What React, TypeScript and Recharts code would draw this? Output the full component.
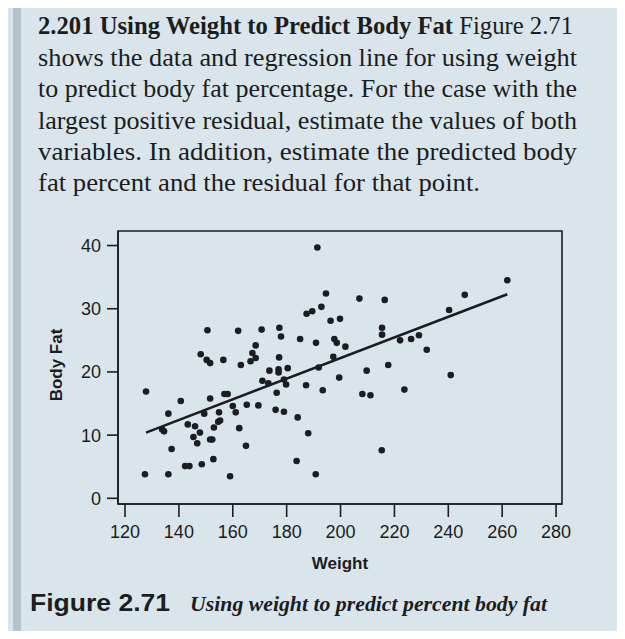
import { ReferenceArea, Scatter, ScatterChart, XAxis, YAxis } from "recharts"

// Weight (lb) and body fat (%)
const weights = [
  150.6, 162, 170.7, 177.3, 177.9, 185, 187.4, 148.1, 150.3, 151.6, 156.5, 163, 166.6, 167.3, 168.5, 168.5,
  177.2, 173.6, 177, 177, 180.4,
  127.8, 127.4, 133.8, 134.5, 136.1, 137.3, 136.1, 140.7, 143.3, 146, 145.4, 147.8, 146.8, 142.3, 143.9,
  148.5, 149.4, 151.6, 151.6, 152.4, 153, 154.6, 155.3, 154.9, 152.8, 156.9, 158.1, 160, 161.1, 159, 162.4,
  165.2, 164.9, 169.5, 171, 173.2, 176.3, 175.9, 179, 179, 179.8, 184.1, 187.2, 183.7, 188,
  193.4, 199.5, 209.7, 208.1, 211.1, 223.7, 240.9, 215.3, 190.8,
  191.4, 261.9, 194.6, 207, 216.4, 246.1, 240.3, 189.5, 192.9, 196.3, 199.8, 190.9, 197.7, 198.6, 201.8,
  197.3, 191.9, 215.4, 215.4, 217.7, 222.1, 226.2, 229.1, 232,
]
const bodyFat = [
  26.6, 26.5, 26.7, 27, 25.6, 25.2, 29.2, 22.8, 21.9, 21.4, 21.9, 21.1, 21.7, 23, 24.2, 22.2,
  22.3, 20.2, 20.4, 19.9, 20.6,
  16.9, 3.8, 10.9, 10.6, 13.4, 7.8, 3.8, 15.4, 11.7, 11.4, 9.7, 10.4, 8.7, 5.1, 5.1,
  5.4, 13.4, 15.8, 9.3, 9.3, 11.2, 12.1, 12.3, 13.6, 6.2, 16.5, 16.5, 14.6, 13.6, 3.5, 11.1,
  14.8, 8.3, 14.7, 18.6, 18.2, 16.7, 14, 13.7, 18.8, 18, 12.8, 17.9, 5.9, 10.3,
  17.1, 19.1, 20.2, 16.5, 16.3, 17.2, 19.5, 7.6, 3.8,
  39.7, 34.5, 32.4, 31.6, 31.4, 32.2, 29.8, 29.6, 30.3, 28.1, 28.4, 24.6, 25.2, 24.6, 24,
  22.4, 20.7, 27, 25.9, 21.1, 25, 25.2, 25.8, 23.5,
]

// regression line end points
const fitWeights = [127.8, 261.9]
const fitBodyFat = [10.4, 32.3]

const xTicks = [120, 140, 160, 180, 200, 220, 240, 260, 280]
const yTicks = [0, 10, 20, 30, 40]

const points = weights.map((w, i) => ({ weight: w, fat: bodyFat[i] }))
const fitLine = fitWeights.map((w, i) => ({ weight: w, fat: fitBodyFat[i] }))

const ink = "#1b1d20"
const serif = "Liberation Serif, Times New Roman, serif"
const sans = "Liberation Sans, Arial, sans-serif"

const paragraph = [
  "shows the data and regression line for using weight",
  "to predict body fat percentage. For the case with the",
  "largest positive residual, estimate the values of both",
  "variables. In addition, estimate the predicted body",
]

const Dot = (props: any) => <circle cx={props.cx} cy={props.cy} r={3.3} fill={ink} />
const NoDot = () => <g />

export default function App() {
  const body = { fontFamily: serif, fontSize: 25 }
  return (
    <div
      style={{
        position: "relative",
        width: 625,
        height: 639,
        margin: -8,
        background: "#dae5eb",
        overflow: "hidden",
      }}
    >
      <div style={{ position: "absolute", left: 13, top: 0, width: 8, height: 639, background: "#b7c3cb" }} />
      <svg width={625} height={639} style={{ position: "absolute", left: 0, top: 0 }}>
        <text x={38} y={34} style={body} fill={ink} textLength={535} lengthAdjust="spacingAndGlyphs">
          <tspan fontWeight="bold">2.201 </tspan>
          <tspan fontWeight="bold">Using Weight to Predict Body Fat</tspan>
          <tspan> Figure 2.71</tspan>
        </text>
        {paragraph.map((line, i) => (
          <text
            key={i}
            x={38}
            y={66 + i * 31.3}
            style={body}
            fill={ink}
            textLength={539}
            lengthAdjust="spacingAndGlyphs"
          >
            {line}
          </text>
        ))}
        <text x={38} y={191} style={body} fill={ink} textLength={442} lengthAdjust="spacingAndGlyphs">
          fat percent and the residual for that point.
        </text>
        <text x={340} y={569} textAnchor="middle" style={{ fontFamily: sans, fontWeight: "bold", fontSize: 17 }} fill={ink}>
          Weight
        </text>
        <text
          transform="translate(62 365) rotate(-90)"
          textAnchor="middle"
          style={{ fontFamily: sans, fontWeight: "bold", fontSize: 17 }}
          fill={ink}
        >
          Body Fat
        </text>
        <text
          x={30}
          y={611}
          style={{ fontFamily: sans, fontWeight: "bold", fontSize: 23 }}
          fill={ink}
          textLength={140}
          lengthAdjust="spacingAndGlyphs"
        >
          Figure 2.71
        </text>
        <text
          x={190}
          y={611}
          style={{ fontFamily: serif, fontWeight: "bold", fontStyle: "italic", fontSize: 22 }}
          fill={ink}
          textLength={357}
          lengthAdjust="spacingAndGlyphs"
        >
          Using weight to predict percent body fat
        </text>
      </svg>
      <div style={{ position: "absolute", left: 0, top: 0 }}>
        <ScatterChart width={625} height={639} margin={{ top: 231, right: 63, bottom: 95, left: 0 }}>
          <XAxis
            dataKey="weight"
            type="number"
            domain={[117.4, 282.2]}
            ticks={xTicks}
            allowDataOverflow
            stroke={ink}
            strokeWidth={1.6}
            tickSize={13}
            tickMargin={8}
            height={40}
            tick={{ fill: ink, fontSize: 18, fontFamily: sans }}
          />
          <YAxis
            dataKey="fat"
            type="number"
            domain={[-0.9, 42.3]}
            ticks={yTicks}
            allowDataOverflow
            stroke={ink}
            strokeWidth={1.6}
            tickSize={11}
            tickMargin={6}
            width={118}
            tick={{ fill: ink, fontSize: 18, fontFamily: sans }}
          />
          <ReferenceArea x1={117.4} x2={282.2} y1={-0.9} y2={42.3} fill="none" stroke={ink} strokeWidth={1.6} />
          <Scatter data={points} shape={Dot} isAnimationActive={false} />
          <Scatter
            data={fitLine}
            line={{ stroke: ink, strokeWidth: 2.6 }}
            lineType="joint"
            shape={NoDot}
            isAnimationActive={false}
          />
        </ScatterChart>
      </div>
    </div>
  )
}
